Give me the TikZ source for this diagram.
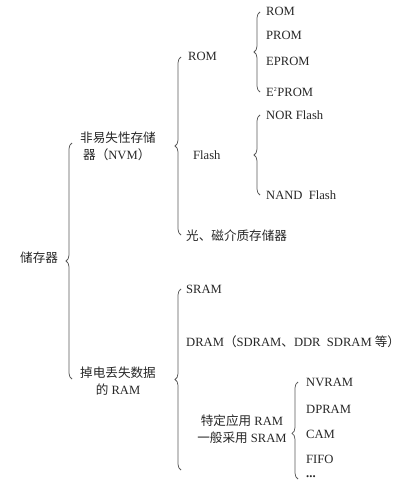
\documentclass[tikz,border=0pt]{standalone}
\usepackage{fontspec}
\setmainfont{Liberation Serif}
\newfontfamily\cjk{Noto Sans CJK SC}
\usetikzlibrary{decorations.pathreplacing}
\tikzset{
  lbl/.style={anchor=west,inner sep=0pt,font=\fontsize{12.6}{15}\selectfont,text=black!85},
  blk/.style={inner sep=0pt,font=\fontsize{12.6}{17}\selectfont,text=black!85},
  brc/.style={draw=black!65,line width=0.75pt,decorate,decoration={brace,amplitude=6pt}}
}
\begin{document}
\begin{tikzpicture}[x=1pt,y=-1pt]
\useasboundingbox (0,0) rectangle (409,484);
% texts
\node[lbl] (root) at (20,258) {\cjk 储存器};
\node[blk,align=left,anchor=west] (nvm) at (80,146) {{\cjk 非易失性存储}\\\hspace{3pt}{\cjk 器（}NVM{\cjk ）}};
\node[blk,align=center] (ram) at (118,381) {{\cjk 掉电丢失数据}\\{\cjk 的} RAM};
\node[lbl] (rom) at (188,56) {ROM};
\node[lbl] (flash) at (193,155) {Flash};
\node[lbl] (opt) at (186,236) {\cjk 光、磁介质存储器};
\node[lbl] (r1) at (266,11) {ROM};
\node[lbl] (r2) at (266,35) {PROM};
\node[lbl] (r3) at (266,61) {EPROM};
\node[lbl] (r4) at (266,92) {E\textsuperscript{\fontsize{6}{6}\selectfont 2}PROM};
\node[lbl] (f1) at (266,115) {NOR Flash};
\node[lbl] (f2) at (266,195) {NAND\ \ Flash};
\node[lbl] (sram) at (186,289) {SRAM};
\node[lbl] (dram) at (186,342) {DRAM{\cjk （}SDRAM{\cjk 、}DDR\ \ SDRAM {\cjk 等）}};
\node[blk,align=center] (spec) at (242,429) {{\cjk 特定应用} RAM\\{\cjk 一般采用} SRAM};
\node[lbl] (s1) at (306,382) {NVRAM};
\node[lbl] (s2) at (306,409) {DPRAM};
\node[lbl] (s3) at (306,434) {CAM};
\node[lbl] (s4) at (306,459) {FIFO};
\node[lbl] (s5) at (306,477) {\textbf{...}};
% brace ends
\coordinate (b1t) at (72,143); \coordinate (b1b) at (72,379);
\coordinate (b2t) at (181,57); \coordinate (b2b) at (181,235);
\coordinate (b3t) at (260,12); \coordinate (b3b) at (260,92);
\coordinate (b4t) at (260,115); \coordinate (b4b) at (260,195);
\coordinate (b5t) at (181,289); \coordinate (b5b) at (181,470);
\coordinate (b6t) at (298,382); \coordinate (b6b) at (298,479);
\draw[brc] (b1b) -- (b1t);
\draw[brc] (b2b) -- (b2t);
\draw[brc] (b3b) -- (b3t);
\draw[brc] (b4b) -- (b4t);
\draw[brc] (b5b) -- (b5t);
\draw[brc,decoration={aspect=0.47}] (b6b) -- (b6t);
\end{tikzpicture}
\end{document}
